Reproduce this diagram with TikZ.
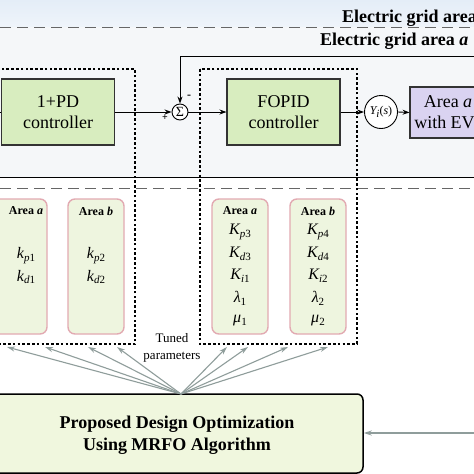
\documentclass[tikz,border=0pt]{standalone}
\usepackage{fontspec}
\setmainfont{Liberation Serif}
\usetikzlibrary{arrows.meta,calc}
\newcommand\sbx[1]{\raisebox{-0.4ex}{\fontsize{11}{11}\selectfont #1}}
\definecolor{ctrlgreen}{HTML}{D8EDBF}
\definecolor{pargreen}{HTML}{EEF5DF}
\definecolor{parpink}{HTML}{E2AAB2}
\definecolor{optgreen}{HTML}{F0F7DE}
\definecolor{evpurple}{HTML}{DAD3F1}
\definecolor{skyblue}{HTML}{E4EDF7}
\definecolor{paleback}{HTML}{F5F7F9}
\definecolor{arrowgray}{HTML}{8F9D9B}
\begin{document}
\begin{tikzpicture}[x=1pt,y=-1pt,
  ctrlbox/.style={draw=black!80,line width=1.1pt,fill=ctrlgreen,minimum width=113pt,minimum height=66pt,align=center,font=\fontsize{18}{21}\selectfont,inner sep=0pt},
  parbox/.style={draw=parpink,line width=1.4pt,fill=pargreen,rounded corners=7pt,minimum width=56pt,minimum height=135pt,inner sep=0pt},
  parhead/.style={font=\fontsize{12}{14}\selectfont\bfseries,inner sep=0pt},
  parval/.style={font=\fontsize{16}{18}\selectfont,inner sep=0pt},
  dotbox/.style={draw=black,line width=2pt,dash pattern=on 2.6pt off 2.2pt},
  graydash/.style={draw=black!60,line width=0.8pt,dash pattern=on 11pt off 6pt},
  sigarrow/.style={-{Stealth[length=7pt,width=5pt]},line width=0.9pt,black},
  tunearrow/.style={-{Stealth[length=8pt,width=5pt]},line width=1.1pt,arrowgray},
  title/.style={font=\fontsize{18}{21}\selectfont\bfseries,inner sep=0pt,anchor=base west}
]
\useasboundingbox (0,0) rectangle (474,474);
\clip (0,0) rectangle (474,474);
% backgrounds
\fill[top color=skyblue,bottom color=skyblue!60!white] (0,0) rectangle (474,27);
\fill[paleback] (0,27) rectangle (474,177);
\fill[white] (0,177) rectangle (474,474);
% area separators
\draw[graydash] (0,27) -- (474,27);
\draw[black,line width=0.9pt] (0,177) -- (474,177);
\draw[graydash] (0,188) -- (474,188);
% titles
\node[title] (t1) at (342,22) {Electric grid area \textit{b}};
\node[title] (t2) at (320,45) {Electric grid area \textit{a}};
% dotted enclosures
\draw[dotbox] (-5,69) rectangle (135,344);
\draw[dotbox] (200,69) rectangle (357,344);
% controller chain
\node[ctrlbox] (pd) at (58,112) {1+PD\\controller};
\node[ctrlbox] (fopid) at (283.5,112) {FOPID\\controller};
\node[draw=black,line width=0.9pt,fill=white,circle,minimum size=16pt,inner sep=0pt,font=\fontsize{14}{14}\selectfont] (sig) at (180,112) {Σ};
\node[font=\fontsize{10}{10}\selectfont\bfseries,inner sep=0pt] (plus) at (165,118) {+};
\node[font=\fontsize{12}{12}\selectfont\bfseries,inner sep=0pt] (minus) at (189,97) {-};
\node[draw=black,line width=0.9pt,fill=white,circle,minimum size=33pt,inner sep=0pt,font=\fontsize{12}{12}\selectfont] (yi) at (381,112) {\textit{Y\sbx{i}}(\textit{s})};
\node[draw=black!80,line width=1.1pt,fill=evpurple,minimum width=76pt,minimum height=51pt,align=center,font=\fontsize{18}{21}\selectfont,inner sep=0pt] (ev) at (448,112.5) {Area \textit{a}\\with EVs};
\coordinate (inl) at (-6,112);
\draw[line width=0.9pt] (inl) -- (pd.west);
\draw[sigarrow] (pd.east) -- (sig.west);
\draw[sigarrow] (sig.east) -- (fopid.west);
\draw[sigarrow] (fopid.east) -- (yi.west);
\draw[sigarrow] (yi.east) -- (ev.west);
\coordinate (fbk) at (480,56);
\draw[sigarrow] (fbk) -| (sig.north);
% parameter boxes
\node[parbox] (pa1) at (19,266.5) {};
\node[parbox] (pb1) at (96,266.5) {};
\node[parbox] (pa2) at (240,266.5) {};
\node[parbox] (pb2) at (318,266.5) {};
\node[parhead] (ha1) at (26,211) {Area \textit{a}};
\node[parhead] (hb1) at (96,211) {Area \textit{b}};
\node[parhead] (ha2) at (240,211) {Area \textit{a}};
\node[parhead] (hb2) at (318,211) {Area \textit{b}};
\node[parval] (kp1) at (26,256) {\textit{k\sbx{p}}\sbx{1}};
\node[parval] (kd1) at (26,277) {\textit{k\sbx{d}}\sbx{1}};
\node[parval] (kp2) at (96,256) {\textit{k\sbx{p}}\sbx{2}};
\node[parval] (kd2) at (96,277) {\textit{k\sbx{d}}\sbx{2}};
\node[parval] (kp3) at (240,232) {\textit{K\sbx{p}}\sbx{3}};
\node[parval] (kd3) at (240,254) {\textit{K\sbx{d}}\sbx{3}};
\node[parval] (ki1) at (240,276) {\textit{K\sbx{i}}\sbx{1}};
\node[parval] (la1) at (240,298) {\textit{λ}\sbx{1}};
\node[parval] (mu1) at (240,321) {\textit{μ}\sbx{1}};
\node[parval] (kp4) at (318,232) {\textit{K\sbx{p}}\sbx{4}};
\node[parval] (kd4) at (318,254) {\textit{K\sbx{d}}\sbx{4}};
\node[parval] (ki2) at (318,276) {\textit{K\sbx{i}}\sbx{2}};
\node[parval] (la2) at (318,298) {\textit{λ}\sbx{2}};
\node[parval] (mu2) at (318,321) {\textit{μ}\sbx{2}};
% tuned parameters
\node[align=center,font=\fontsize{13}{16.5}\selectfont,inner sep=0pt] (tuned) at (172,348) {Tuned\\parameters};
% optimizer
\node[draw=black,line width=1.5pt,fill=optgreen,rounded corners=6pt,minimum width=372pt,minimum height=79pt,inner sep=0pt] (opt) at (177,433.5) {};
\node[align=center,font=\fontsize{18}{22}\selectfont\bfseries,inner sep=0pt] (opttext) at (177,435) {Proposed Design Optimization\\Using MRFO Algorithm};
\coordinate (src) at (181,394);
\foreach \i/\xx in {1/7,2/45,3/88,4/117,5/227,6/248,7/288,8/328}{
  \coordinate (tg\i) at (\xx,347);
  \draw[tunearrow] (src) -- (tg\i);
}
\coordinate (rin) at (480,433);
\draw[tunearrow] (rin) -- (rin -| opt.east);
\end{tikzpicture}
\end{document}
